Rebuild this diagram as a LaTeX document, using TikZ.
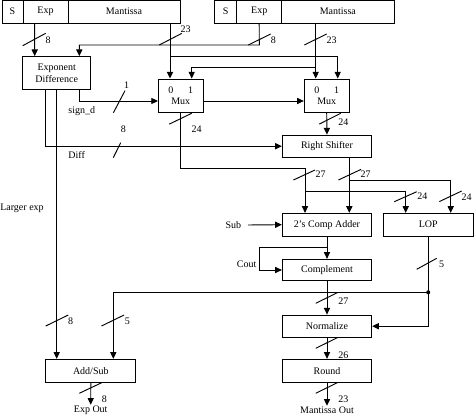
\documentclass[tikz,border=0pt]{standalone}
\usepackage{fontspec}
\setmainfont{Liberation Serif}
\usetikzlibrary{arrows.meta,positioning,calc}

\begin{document}
\begin{tikzpicture}[x=0.75pt,y=-0.75pt,
        font=\fontsize{7.5}{8.8}\selectfont,
        campo/.style={draw,line width=0.7pt,minimum height=17.25pt,inner sep=0pt},
        bloque/.style={draw,line width=0.7pt,minimum width=67pt,minimum height=17pt,inner sep=0pt,align=center},
        selector/.style={bloque,minimum width=33.6pt,minimum height=25.2pt},
        flecha/.style={-{Triangle[length=5pt,width=4.6pt]},line width=0.7pt},
        marca/.style={line width=0.7pt},
        etiqueta/.style={inner sep=1pt}]
        \useasboundingbox (0,0) rectangle (474,417);
        % registros de entrada
        \node[campo,minimum width=15.75pt] (s1) at (12.5,11.5) {S};
        \node[campo,minimum width=33.75pt] (e1) at (45.5,11.5) {Exp};
        \node[campo,minimum width=84pt] (m1) at (124,11.5) {Mantissa};
        \node[campo,minimum width=16.5pt] (s2) at (225.7,11.5) {S};
        \node[campo,minimum width=33.75pt] (e2) at (259.2,11.5) {Exp};
        \node[campo,minimum width=84.2pt] (m2) at (337.85,11.5) {Mantissa};
        % bloques
        \node[bloque,minimum width=51pt,minimum height=25pt] (edif) at (56.7,73.3) {Exponent\\Difference};
        \node[selector] (mux1) at (180.8,95.8) {0\hspace{11pt}1\\Mux};
        \node[selector] (mux2) at (326.7,95.8) {0\hspace{11pt}1\\Mux};
        \node[bloque,minimum height=16.7pt] (rs) at (327,146.2) {Right Shifter};
        \node[bloque] (add) at (327,224.7) {2’s Comp Adder};
        \node[bloque,minimum width=67.3pt] (lop) at (428.2,224.7) {LOP};
        \node[bloque,minimum height=16pt] (comp) at (327,270) {Complement};
        \node[bloque,minimum height=16.7pt] (norm) at (327,326.2) {Normalize};
        \node[bloque,minimum height=17.25pt] (rnd) at (327,370.8) {Round};
        \node[bloque,minimum width=67.7pt,minimum height=17.25pt] (as) at (90.8,370.8) {Add/Sub};
        % textos
        \node[etiqueta] (sub) at (233.3,225) {Sub};
        \node[etiqueta] (cout) at (246.7,264.5) {Cout};
        \node[etiqueta] (signd) at (81.7,110.7) {sign\_d};
        \node[etiqueta] (diff) at (76.7,155) {Diff};
        \node[etiqueta] (lexp) at (22,208.3) {Larger exp};
        \node[etiqueta] (eout) at (90.7,410.7) {Exp Out};
        \node[etiqueta] (mout) at (327,410.7) {Mantissa Out};
        % puntos de entrada y cruces
        \coordinate (mx1a) at ($(mux1.north)+(-10.8,0)$);
        \coordinate (mx1b) at ($(mux1.north)+(10.9,0)$);
        \coordinate (mx2a) at ($(mux2.north)+(-11,0)$);
        \coordinate (mx2b) at ($(mux2.north)+(11,0)$);
        \coordinate (ad0) at ($(add.north)+(-22,0)$);
        \coordinate (ad1) at ($(add.north)+(22.3,0)$);
        \coordinate (lp0) at ($(lop.north)+(-22.5,0)$);
        \coordinate (lp1) at ($(lop.north)+(22.5,0)$);
        \coordinate (as1) at ($(as.north)+(22.5,0)$);
        \coordinate (j1) at (259.3,45);
        \coordinate (jm1) at (170,56.7);
        \coordinate (jm2) at (315.7,67.3);
        \coordinate (jb) at (305,191);
        \coordinate (jc) at (349.3,180);
        \coordinate (jd) at (326.7,247.7);
        \coordinate (je) at (428.2,292.3);
        % conexiones
        \draw[flecha] ($(e1.south)+(-10.8,0)$) -- ($(edif.north)+(-22,0)$);
        \draw[flecha] (e2.south) -- (j1) -| ($(edif.north)+(22.6,0)$);
        \draw[flecha] (m1.south -| mx1a) -- (mx1a);
        \draw[flecha] (m2.south -| mx2a) -- (mx2a);
        \draw[flecha] (jm1) -| (mx2b);
        \draw[flecha] (jm2) -| (mx1b);
        \draw[flecha] ($(edif.south)+(22.6,0)$) |- ($(mux1.west)+(0,5.2)$);
        \draw[flecha] ($(mux1.east)+(0,5.2)$) -- ($(mux2.west)+(0,5.2)$);
        \draw[flecha] ($(edif.south)+(-11,0)$) |- (rs.west);
        \draw[flecha] (edif.south) -- (edif.south |- as.north);
        \draw[flecha] (mux1.south) -- ++(0,55.6) -| (ad0);
        \draw[flecha] (jb) -| (lp0);
        \draw[flecha] (mux2.south) -- (rs.north);
        \draw[flecha] (rs.south -| ad1) -- (ad1);
        \draw[flecha] (jc) -| (lp1);
        \draw[flecha] ([xshift=4pt]sub.east) -- (add.west);
        \draw[flecha] (add.south) -- (comp.north);
        \draw[flecha] (jd) -- ++(-67.4,0) |- (comp.west);
        \draw[flecha] (comp.south) -- (norm.north);
        \draw[flecha] (lop.south) |- (norm.east);
        \fill (je) circle[radius=2];
        \draw[flecha] (je) -| (as1);
        \draw[flecha] (norm.south) -- (rnd.north);
        \draw[flecha] (rnd.south) -- (mout.north);
        \draw[flecha] (as.south) -- (eout.north);
        % anchos de bus
        \foreach \cx/\cy/\dx/\dy/\lx/\ly/\t in {
            34.2/39.5/11.5/6.2/48/40/8, 259.5/39.5/11.2/5.5/273.3/40/8,
            170.5/39.2/11.2/5.8/185.7/29/23, 315.5/39.5/11.2/5.5/331.7/40.7/23,
            119.2/101.7/5.8/11/126.7/85/1, 117/150.2/3.7/7.5/123.3/129.5/8,
            180.5/118.7/11.2/5.4/196.7/129/24, 330/118.7/10.7/5.4/343.3/121.7/24,
            304.2/175/10.8/5/320.7/174.3/27, 349.7/174.7/11.3/5.3/365.7/174.3/27,
            405.5/196.7/11.2/5/422.3/196/24, 450.5/196.3/11.2/5.3/466.7/197.3/24,
            426.7/263.8/10/5.5/441.7/264.7/5, 326.5/298/10.8/5.3/343.3/300.7/27,
            326.5/343/10.8/5.3/343.3/355/26, 326.5/388/10.8/5.3/343.3/399.3/23,
            57/320.5/11.3/5.5/70.7/321/8, 112.8/320.5/11.3/5.5/127.3/321/5,
            90.5/388/11.2/5.3/104.3/399/8}
          {\draw[marca] (\cx-\dx,\cy+\dy) -- (\cx+\dx,\cy-\dy);
           \node[etiqueta] at (\lx,\ly) {\t};}
\end{tikzpicture}
\end{document}
